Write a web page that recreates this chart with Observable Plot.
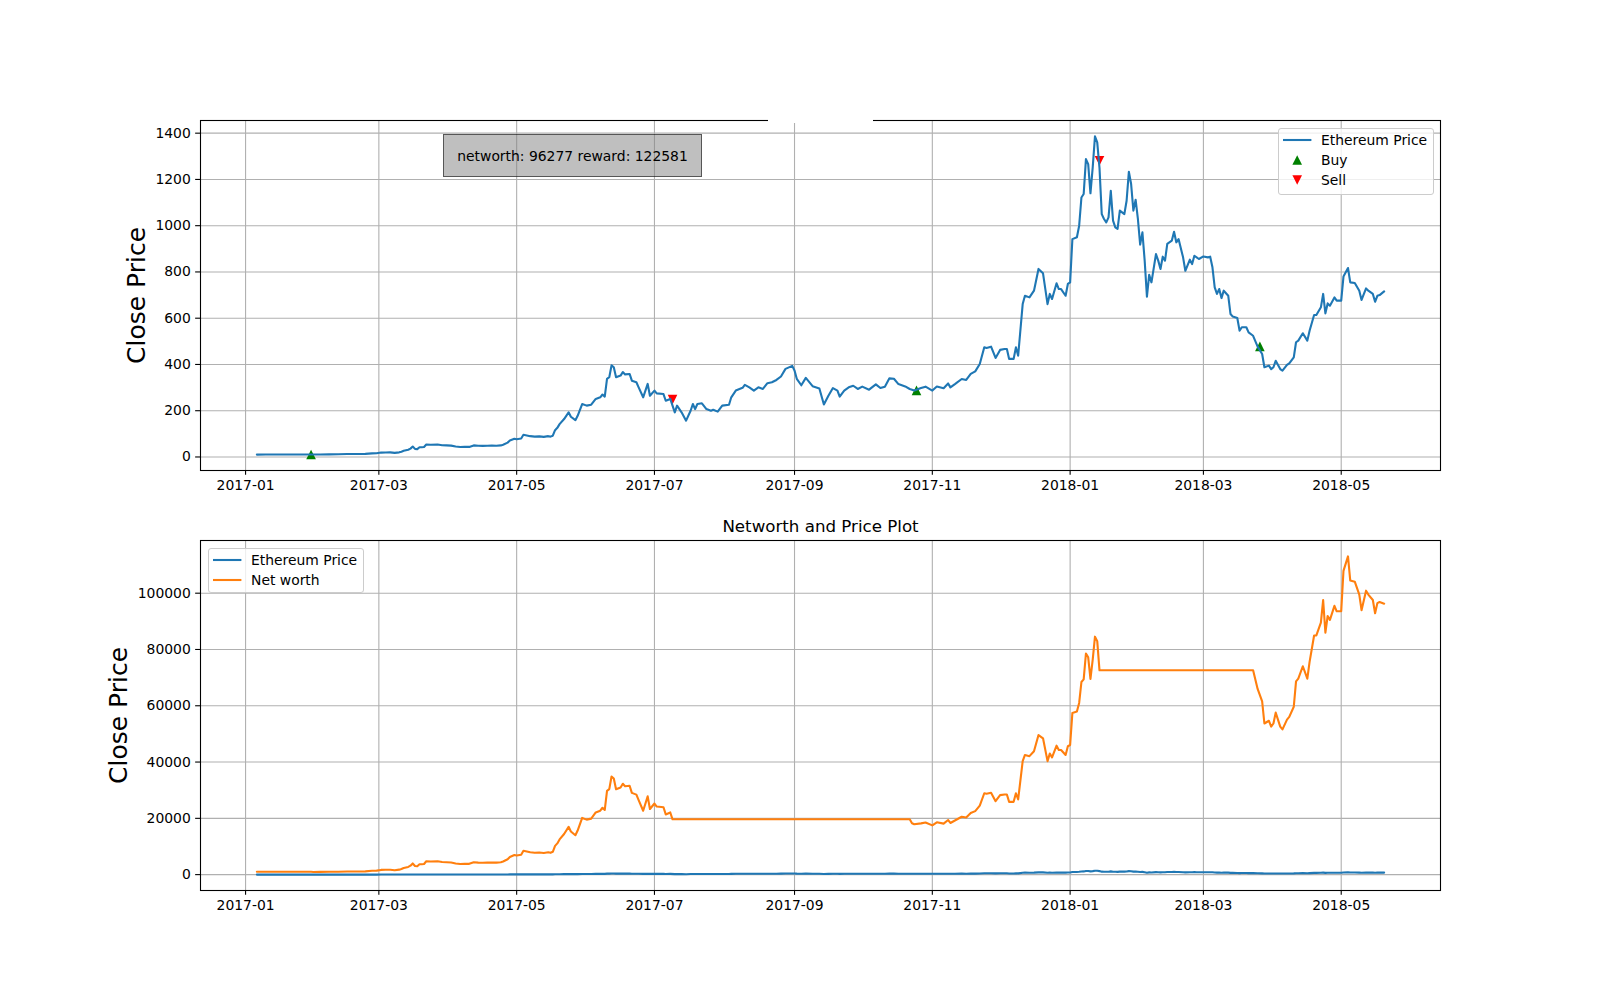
<!DOCTYPE html>
<html>
<head>
<meta charset="utf-8">
<script src="https://cdn.jsdelivr.net/npm/d3@7"></script>
<script src="https://cdn.jsdelivr.net/npm/@observablehq/plot@0.6"></script>
<style>
  html, body { margin: 0; padding: 0; background: #fff; }
  #wrap { position: relative; width: 1600px; height: 1000px; overflow: hidden; font-family: "DejaVu Sans", sans-serif; color: #000; }
  #wrap svg { display: block; }
  .panel { position: absolute; left: 0; }
  .legend { position: absolute; box-sizing: border-box; border: 1px solid #cccccc; border-radius: 3px; background: rgba(255,255,255,0.8); z-index: 5; }
  .legend .row { position: absolute; left: 0; height: 20px; line-height: 20px; font-size: 13.9px; white-space: nowrap; }
  .legend .row svg { position: absolute; top: 3px; }
  .legend .row span { position: absolute; white-space: nowrap; }
  .note { position: absolute; box-sizing: border-box; background: rgba(128,128,128,0.5); border: 1.4px solid rgba(0,0,0,0.55); z-index: 5; display: flex; align-items: center; justify-content: center; font-size: 13.9px; white-space: nowrap; }
  .mask { position: absolute; background: #fff; z-index: 4; }
</style>
</head>
<body>
<div id="wrap">
  <div id="topPanel" class="panel" style="top:0"></div>
  <div id="botPanel" class="panel" style="top:500px"></div>
</div>
<script>
// ---------------- data ----------------
const priceDates = [
"2017-01-06","2017-01-10","2017-01-14","2017-01-18","2017-01-22","2017-01-26","2017-01-30","2017-02-03","2017-02-07","2017-02-11",
"2017-02-15","2017-02-19","2017-02-23","2017-02-26","2017-02-28","2017-03-02","2017-03-04","2017-03-06","2017-03-08","2017-03-10",
"2017-03-11","2017-03-12","2017-03-13","2017-03-14","2017-03-15","2017-03-16","2017-03-17","2017-03-18","2017-03-19","2017-03-20",
"2017-03-21","2017-03-22","2017-03-24","2017-03-27","2017-03-29","2017-03-31","2017-04-02","2017-04-04","2017-04-06","2017-04-08",
"2017-04-10","2017-04-12","2017-04-14","2017-04-16","2017-04-18","2017-04-20","2017-04-22","2017-04-24","2017-04-25","2017-04-27",
"2017-04-28","2017-04-30","2017-05-01","2017-05-03","2017-05-04","2017-05-05","2017-05-07","2017-05-09","2017-05-11","2017-05-13",
"2017-05-15","2017-05-16","2017-05-17","2017-05-18","2017-05-19","2017-05-20","2017-05-22","2017-05-24","2017-05-25","2017-05-27",
"2017-05-28","2017-05-30","2017-06-01","2017-06-03","2017-06-05","2017-06-07","2017-06-08","2017-06-09","2017-06-10","2017-06-11",
"2017-06-12","2017-06-13","2017-06-14","2017-06-16","2017-06-17","2017-06-18","2017-06-20","2017-06-21","2017-06-23","2017-06-24",
"2017-06-26","2017-06-28","2017-06-29","2017-07-01","2017-07-02","2017-07-05","2017-07-06","2017-07-08","2017-07-10","2017-07-11",
"2017-07-13","2017-07-15","2017-07-17","2017-07-18","2017-07-19","2017-07-20","2017-07-22","2017-07-24","2017-07-26","2017-07-27",
"2017-07-29","2017-07-31","2017-08-03","2017-08-04","2017-08-06","2017-08-09","2017-08-10","2017-08-12","2017-08-14","2017-08-16",
"2017-08-18","2017-08-20","2017-08-22","2017-08-24","2017-08-26","2017-08-28","2017-08-31","2017-09-01","2017-09-02","2017-09-04",
"2017-09-06","2017-09-09","2017-09-12","2017-09-14","2017-09-16","2017-09-18","2017-09-20","2017-09-21","2017-09-23","2017-09-25",
"2017-09-27","2017-09-29","2017-10-01","2017-10-04","2017-10-07","2017-10-09","2017-10-11","2017-10-13","2017-10-15","2017-10-17",
"2017-10-20","2017-10-22","2017-10-24","2017-10-27","2017-10-29","2017-11-01","2017-11-03","2017-11-06","2017-11-08","2017-11-09",
"2017-11-11","2017-11-14","2017-11-16","2017-11-18","2017-11-20","2017-11-22","2017-11-24","2017-11-25","2017-11-27","2017-11-29",
"2017-12-01","2017-12-03","2017-12-04","2017-12-05","2017-12-07","2017-12-08","2017-12-09","2017-12-11","2017-12-12","2017-12-14",
"2017-12-16","2017-12-18","2017-12-20","2017-12-22","2017-12-23","2017-12-24","2017-12-26","2017-12-27","2017-12-28","2017-12-30",
"2017-12-31","2018-01-01","2018-01-02","2018-01-04","2018-01-05","2018-01-06","2018-01-07","2018-01-08","2018-01-09","2018-01-10",
"2018-01-11","2018-01-12","2018-01-13","2018-01-14","2018-01-15","2018-01-16","2018-01-17","2018-01-18","2018-01-19","2018-01-20",
"2018-01-21","2018-01-22","2018-01-23","2018-01-25","2018-01-26","2018-01-27","2018-01-28","2018-01-29","2018-01-30","2018-01-31",
"2018-02-01","2018-02-02","2018-02-03","2018-02-04","2018-02-05","2018-02-06","2018-02-08","2018-02-09","2018-02-10","2018-02-11",
"2018-02-12","2018-02-13","2018-02-15","2018-02-16","2018-02-17","2018-02-18","2018-02-20","2018-02-21","2018-02-23","2018-02-24",
"2018-02-25","2018-02-26","2018-02-27","2018-03-01","2018-03-03","2018-03-04","2018-03-05","2018-03-06","2018-03-07","2018-03-08",
"2018-03-09","2018-03-10","2018-03-12","2018-03-13","2018-03-14","2018-03-16","2018-03-17","2018-03-18","2018-03-20","2018-03-21",
"2018-03-23","2018-03-25","2018-03-27","2018-03-28","2018-03-30","2018-03-31","2018-04-01","2018-04-02","2018-04-04","2018-04-05",
"2018-04-07","2018-04-08","2018-04-10","2018-04-11","2018-04-12","2018-04-14","2018-04-16","2018-04-17","2018-04-19","2018-04-20",
"2018-04-22","2018-04-23","2018-04-24","2018-04-25","2018-04-26","2018-04-28","2018-04-29","2018-05-01","2018-05-02","2018-05-04",
"2018-05-05","2018-05-07","2018-05-09","2018-05-10","2018-05-12","2018-05-13","2018-05-15","2018-05-16","2018-05-17","2018-05-18",
"2018-05-20"
];
const priceValues = [
10.3,10.4,10.6,10.5,10.8,10.6,10.7,11.0,11.4,11.7,
12.8,12.6,13.2,15.5,16.0,19.0,19.4,19.8,17.9,20.0,
23,27,29,31,36,45,35,34,42,42,
43,54,53,54,51,50,49,45,43,44,
43.5,50,48.5,48,48.5,49,48.5,50,53,62,
71,79,77,80,96,94,90,88,89,87,
90,88,92,116,126,142,164,193,174,159,
178,229,222,226,251,258,270,261,338,345,
396,388,345,352,367,357,359,330,323,301,
258,316,265,287,275,272,243,251,193,222,
193,157,200,229,207,229,232,207,200,204,
196,222,226,258,287,299,312,301,287,301,
294,319,323,333,348,381,394,374,338,310,
342,306,296,227,265,298,287,261,287,301,
308,294,304,291,314,298,304,340,338,315,
305,294,287,298,304,287,305,297,318,301,
315,337,333,359,370,402,474,471,477,428,
463,467,467,424,424,474,438,661,697,690,
719,813,794,661,705,683,751,726,726,697,
748,755,942,950,1000,1122,1137,1288,1266,1140,
1252,1386,1360,1250,1050,1029,1014,1036,1151,1022,
993,986,1065,1050,1108,1233,1180,1065,1112,1029,
918,971,849,693,788,755,877,849,813,866,
849,921,935,974,928,942,863,805,853,834,
870,863,856,867,863,866,820,733,705,726,
687,719,697,618,607,601,546,561,561,539,
524,477,445,388,395,380,388,416,380,373,
398,405,431,496,503,535,503,546,614,614,
647,705,621,664,654,690,676,676,780,817,
755,752,719,679,729,719,705,671,697,700,
716
];

const worthDates = [
"2017-01-06","2017-01-30","2017-01-31","2017-02-03","2017-02-07","2017-02-11","2017-02-15","2017-02-19","2017-02-23","2017-02-26",
"2017-02-28","2017-03-02","2017-03-04","2017-03-06","2017-03-08","2017-03-10","2017-03-11","2017-03-12","2017-03-13","2017-03-14",
"2017-03-15","2017-03-16","2017-03-17","2017-03-18","2017-03-19","2017-03-20","2017-03-21","2017-03-22","2017-03-24","2017-03-27",
"2017-03-29","2017-03-31","2017-04-02","2017-04-04","2017-04-06","2017-04-08","2017-04-10","2017-04-12","2017-04-14","2017-04-16",
"2017-04-18","2017-04-20","2017-04-22","2017-04-24","2017-04-25","2017-04-27","2017-04-28","2017-04-30","2017-05-01","2017-05-03",
"2017-05-04","2017-05-05","2017-05-07","2017-05-09","2017-05-11","2017-05-13","2017-05-15","2017-05-16","2017-05-17","2017-05-18",
"2017-05-19","2017-05-20","2017-05-22","2017-05-24","2017-05-25","2017-05-27","2017-05-28","2017-05-30","2017-06-01","2017-06-03",
"2017-06-05","2017-06-07","2017-06-08","2017-06-09","2017-06-10","2017-06-11","2017-06-12","2017-06-13","2017-06-14","2017-06-16",
"2017-06-17","2017-06-18","2017-06-20","2017-06-21","2017-06-23","2017-06-24","2017-06-26","2017-06-28","2017-06-29","2017-07-01",
"2017-07-02","2017-07-05","2017-07-06","2017-07-08","2017-07-09","2017-10-22","2017-10-23","2017-10-24","2017-10-27","2017-10-29",
"2017-11-01","2017-11-03","2017-11-06","2017-11-08","2017-11-09","2017-11-11","2017-11-14","2017-11-16","2017-11-18","2017-11-20",
"2017-11-22","2017-11-24","2017-11-25","2017-11-27","2017-11-29","2017-12-01","2017-12-03","2017-12-04","2017-12-05","2017-12-07",
"2017-12-08","2017-12-09","2017-12-11","2017-12-12","2017-12-14","2017-12-16","2017-12-18","2017-12-20","2017-12-22","2017-12-23",
"2017-12-24","2017-12-26","2017-12-27","2017-12-28","2017-12-30","2017-12-31","2018-01-01","2018-01-02","2018-01-04","2018-01-05",
"2018-01-06","2018-01-07","2018-01-08","2018-01-09","2018-01-10","2018-01-11","2018-01-12","2018-01-13","2018-01-14","2018-03-23",
"2018-03-25","2018-03-27","2018-03-28","2018-03-30","2018-03-31","2018-04-01","2018-04-02","2018-04-04","2018-04-05","2018-04-07",
"2018-04-08","2018-04-10","2018-04-11","2018-04-12","2018-04-14","2018-04-16","2018-04-17","2018-04-19","2018-04-20","2018-04-22",
"2018-04-23","2018-04-24","2018-04-25","2018-04-26","2018-04-28","2018-04-29","2018-05-01","2018-05-02","2018-05-04","2018-05-05",
"2018-05-07","2018-05-09","2018-05-10","2018-05-12","2018-05-13","2018-05-15","2018-05-16","2018-05-17","2018-05-18","2018-05-20"
];
const worthValues = [
1000,1000,930,968,1003,1030,1126,1109,1162,1364,
1408,1672,1707,1742,1575,1760,2024,2376,2552,2728,
3168,3960,3080,2992,3696,3696,3784,4752,4664,4752,
4488,4400,4312,3960,3784,3872,3828,4400,4268,4224,
4268,4312,4268,4400,4664,5456,6248,6952,6776,7040,
8448,8272,7920,7744,7832,7656,7920,7744,8096,10208,
11088,12496,14432,16984,15312,13992,15664,20152,19536,19888,
22088,22704,23760,22968,29744,30360,34848,34144,30360,30976,
32296,31416,31592,29040,28424,26488,22704,27808,23320,25256,
24200,23936,21384,22088,19650,19650,18250,17900,18200,18540,
17510,18600,18120,19400,18360,19220,20560,20310,21900,22570,
24520,28910,28730,29100,26110,28240,28490,28490,25860,25860,
28910,26720,40320,42520,42090,43860,49590,48430,40320,43010,
41660,45810,44290,44290,42520,45630,46060,57460,57950,61000,
68440,69360,78570,77230,69540,76370,84550,82960,72600,72600,
66000,61590,53700,54670,52590,53700,57570,52590,51620,55080,
56050,59650,68650,69620,74040,69620,75570,84980,84980,89550,
97570,85950,91900,90510,95500,93560,93560,107950,113070,104490,
104080,99510,93970,100890,99510,97570,92870,96470,96880,96277
];

const buyDates = ["2017-01-30", "2017-10-25", "2018-03-26"];
const buyValues = [10.5, 288, 478];
const sellDates = ["2017-07-09", "2018-01-14"];
const sellValues = [248, 1281];

const priceTicks = [0, 200, 400, 600, 800, 1000, 1200, 1400];
const worthTicks = [0, 20000, 40000, 60000, 80000, 100000];

const finalNetworth = 96277;
const finalReward = 122581;

const yLabel = "Close Price";
const bottomTitle = "Networth and Price Plot";
const priceName = "Ethereum Price";
const worthName = "Net worth";
const buyName = "Buy";
const sellName = "Sell";

const BLUE = "#1f77b4", ORANGE = "#ff7f0e", GREEN = "#008000", RED = "#ff0000";

// ---------------- build ----------------
const parse = d3.utcParse("%Y-%m-%d");
const priceRows = priceDates.map((d, i) => ({date: parse(d), value: priceValues[i]}));
const worthRows = worthDates.map((d, i) => ({date: parse(d), value: worthValues[i]}));
const buyRows = buyDates.map((d, i) => ({date: parse(d), value: buyValues[i]}));
const sellRows = sellDates.map((d, i) => ({date: parse(d), value: sellValues[i]}));

// matplotlib-like 5% autoscale margins
const [t0, t1] = d3.extent(priceRows, d => d.date);
const tpad = (t1 - t0) * 0.05;
const xDomain = [new Date(+t0 - tpad), new Date(+t1 + tpad)];
function padded(lo, hi) { const p = (hi - lo) * 0.05; return [lo - p, hi + p]; }
const topY = padded(d3.min(priceValues), d3.max(priceValues));
const botY = padded(Math.min(d3.min(priceValues), d3.min(worthValues)),
                    Math.max(d3.max(priceValues), d3.max(worthValues)));

const tickDates = d3.utcMonth.every(2).range(xDomain[0], xDomain[1]);
const fmtDate = d3.utcFormat("%Y-%m");
const fmtNum = d3.format("d");

const triUp = {draw(ctx, size) { const s = Math.sqrt(size) / 2; ctx.moveTo(0, -s); ctx.lineTo(s, s); ctx.lineTo(-s, s); ctx.closePath(); }};
const triDown = {draw(ctx, size) { const s = Math.sqrt(size) / 2; ctx.moveTo(0, s); ctx.lineTo(s, -s); ctx.lineTo(-s, -s); ctx.closePath(); }};
const markerR = 9.6 / Math.sqrt(Math.PI);

const FONT = "'DejaVu Sans', sans-serif";
const grid = {stroke: "#b0b0b0", strokeOpacity: 1, strokeWidth: 1.1};
const axisOpts = {tickSize: 4.86, tickPadding: 4.86, fontSize: 13.9, strokeWidth: 1.1, label: null, stroke: "black", fill: "black"};
const common = {
  width: 1600, height: 500, marginLeft: 200, marginRight: 160,
  style: {fontFamily: FONT, fontSize: "13.9px", color: "black", background: "transparent", overflow: "visible"}
};

const topChart = Plot.plot({
  ...common,
  marginTop: 120, marginBottom: 30,
  x: {type: "utc", domain: xDomain, label: null},
  y: {domain: topY, label: null},
  marks: [
    Plot.gridX(tickDates, grid),
    Plot.gridY(priceTicks, grid),
    Plot.dot(buyRows, {x: "date", y: "value", symbol: triUp, r: markerR, fill: GREEN}),
    Plot.dot(sellRows, {x: "date", y: "value", symbol: triDown, r: markerR, fill: RED}),
    Plot.line(priceRows, {x: "date", y: "value", stroke: BLUE, strokeWidth: 2.1}),
    Plot.axisX(tickDates, {...axisOpts, tickFormat: fmtDate}),
    Plot.axisY(priceTicks, {...axisOpts, tickFormat: fmtNum}),
    Plot.frame({stroke: "black", strokeWidth: 1.1}),
    Plot.text([yLabel], {frameAnchor: "left", textAnchor: "middle", dx: -64, rotate: -90, fontSize: 25, fill: "black"})
  ]
});

const botChart = Plot.plot({
  ...common,
  marginTop: 40, marginBottom: 110,
  x: {type: "utc", domain: xDomain, label: null},
  y: {domain: botY, label: null},
  marks: [
    Plot.gridX(tickDates, grid),
    Plot.gridY(worthTicks, grid),
    Plot.line(priceRows, {x: "date", y: "value", stroke: BLUE, strokeWidth: 2.1}),
    Plot.line(worthRows, {x: "date", y: "value", stroke: ORANGE, strokeWidth: 2.1}),
    Plot.axisX(tickDates, {...axisOpts, tickFormat: fmtDate}),
    Plot.axisY(worthTicks, {...axisOpts, tickFormat: fmtNum}),
    Plot.frame({stroke: "black", strokeWidth: 1.1}),
    Plot.text([yLabel], {frameAnchor: "left", textAnchor: "middle", dx: -82, rotate: -90, fontSize: 25, fill: "black"}),
    Plot.text([bottomTitle], {frameAnchor: "top", lineAnchor: "bottom", dy: -8.3, fontSize: 16.67, fill: "black"})
  ]
});

document.getElementById("topPanel").appendChild(topChart);
document.getElementById("botPanel").appendChild(botChart);

const wrap = document.getElementById("wrap");

// white patch covering part of the upper spine (as in the reference)
const mask = document.createElement("div");
mask.className = "mask";
mask.style.cssText += "left:768px;top:100px;width:105px;height:23px;";
wrap.appendChild(mask);

// annotation box
const note = document.createElement("div");
note.className = "note";
note.style.cssText += "left:443px;top:134px;width:259px;height:43px;";
note.textContent = `networth: ${finalNetworth} reward: ${finalReward}`;
wrap.appendChild(note);

// legends
function swatch(kind, color) {
  if (kind === "line") return `<svg width="29" height="14"><line x1="0" y1="7" x2="28.4" y2="7" stroke="${color}" stroke-width="2.1"/></svg>`;
  const s = 4.8;
  const pts = kind === "up" ? `14.2,${7 - s} ${14.2 + s},${7 + s} ${14.2 - s},${7 + s}` : `14.2,${7 + s} ${14.2 + s},${7 - s} ${14.2 - s},${7 - s}`;
  return `<svg width="29" height="14"><polygon points="${pts}" fill="${color}"/></svg>`;
}
function legend(items, left, top, width, height) {
  const box = document.createElement("div");
  box.className = "legend";
  box.style.cssText += `left:${left}px;top:${top}px;width:${width}px;height:${height}px;`;
  items.forEach((it, i) => {
    const row = document.createElement("div");
    row.className = "row";
    row.style.top = (1.0 + i * 20.3) + "px";
    row.innerHTML = `<span style="left:4px;top:0">${swatch(it.kind, it.color)}</span><span style="left:42.5px;top:0">${it.label}</span>`;
    box.appendChild(row);
  });
  wrap.appendChild(box);
}
legend([
  {kind: "line", color: BLUE, label: priceName},
  {kind: "up", color: GREEN, label: buyName},
  {kind: "down", color: RED, label: sellName}
], 1277.5, 127.5, 156, 67);
legend([
  {kind: "line", color: BLUE, label: priceName},
  {kind: "line", color: ORANGE, label: worthName}
], 207.5, 547.5, 156, 45.5);
</script>
</body>
</html>
